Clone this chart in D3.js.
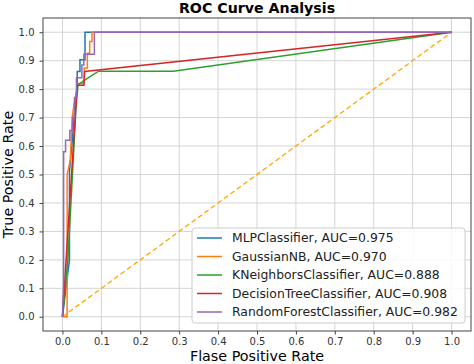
<!DOCTYPE html>
<html lang="en">
<head>
<meta charset="UTF-8">
<title>ROC Curve Analysis</title>
<script src="https://d3js.org/d3.v7.min.js"></script>
<style>
  body { margin: 0; background: #fff; }
  svg { font-family: "DejaVu Sans", sans-serif; }
</style>
</head>
<body>
<div id="chart"></div>
<script>
// tick labels
var xTicks = [0, 0.1, 0.2, 0.3, 0.4, 0.5, 0.6, 0.7, 0.8, 0.9, 1.0];
var yTicks = [0, 0.1, 0.2, 0.3, 0.4, 0.5, 0.6, 0.7, 0.8, 0.9, 1.0];

var models = ["MLPClassifier", "GaussianNB", "KNeighborsClassifier", "DecisionTreeClassifier", "RandomForestClassifier"];
var aucs = ["0.975", "0.970", "0.888", "0.908", "0.982"];
var colors = ["#1f77b4", "#ff7f0e", "#2ca02c", "#d62728", "#9467bd"];

// false positive / true positive rates
var mlpFpr = [0, 0.018, 0.018, 0.024, 0.030, 0.033, 0.038, 0.038, 0.045, 0.045, 0.058, 0.058, 1];
var mlpTpr = [0, 0.20, 0.51, 0.60, 0.70, 0.77, 0.80, 0.862, 0.862, 0.903, 0.903, 1, 1];

var gnbFpr = [0, 0.012, 0.012, 0.020, 0.025, 0.030, 0.040, 0.056, 0.056, 0.064, 0.064, 0.070, 0.070, 0.076, 0.076, 1];
var gnbTpr = [0, 0, 0.50, 0.55, 0.70, 0.75, 0.82, 0.82, 0.874, 0.874, 0.926, 0.926, 0.967, 0.967, 1, 1];

var knnFpr = [0, 0.014, 0.035, 0.040, 0.055, 0.093, 0.285, 1];
var knnTpr = [0, 0.20, 0.74, 0.815, 0.83, 0.863, 0.863, 1];

var dtFpr = [0, 0.038, 0.055, 0.057, 1];
var dtTpr = [0, 0.814, 0.814, 0.862, 1];

var rfFpr = [0, 0.003, 0.003, 0.008, 0.008, 0.019, 0.019, 0.026, 0.026, 0.031, 0.031, 0.036, 0.036, 0.050, 0.050, 0.055, 0.055, 0.082, 0.082, 1];
var rfTpr = [0, 0.12, 0.58, 0.58, 0.62, 0.62, 0.655, 0.655, 0.70, 0.70, 0.77, 0.77, 0.84, 0.84, 0.885, 0.885, 0.923, 0.923, 1, 1];

var fprs = [mlpFpr, gnbFpr, knnFpr, dtFpr, rfFpr];
var tprs = [mlpTpr, gnbTpr, knnTpr, dtTpr, rfTpr];

var chance = [0, 1];

var width = 474, height = 364;
var margin = {top: 18, right: 3, bottom: 33, left: 43};

var svg = d3.select("#chart").append("svg")
    .attr("width", width)
    .attr("height", height);

var x = d3.scaleLinear().domain([-0.05, 1.05]).range([margin.left, width - margin.right]);
var y = d3.scaleLinear().domain([-0.05, 1.05]).range([height - margin.bottom, margin.top]);

// grid
svg.append("g").selectAll("line").data(xTicks).join("line")
    .attr("x1", d => x(d)).attr("x2", d => x(d))
    .attr("y1", y(-0.05)).attr("y2", y(1.05))
    .attr("stroke", "#d5d5d5").attr("stroke-width", 1);
svg.append("g").selectAll("line").data(yTicks).join("line")
    .attr("y1", d => y(d)).attr("y2", d => y(d))
    .attr("x1", x(-0.05)).attr("x2", x(1.05))
    .attr("stroke", "#d5d5d5").attr("stroke-width", 1);

// axes
var xAxis = d3.axisBottom(x).tickValues(xTicks).tickFormat(d3.format(".1f")).tickSize(3.5).tickPadding(3.5);
var yAxis = d3.axisLeft(y).tickValues(yTicks).tickFormat(d3.format(".1f")).tickSize(3.5).tickPadding(5);

var gx = svg.append("g").attr("transform", "translate(0," + y(-0.05) + ")").call(xAxis);
var gy = svg.append("g").attr("transform", "translate(" + x(-0.05) + ",0)").call(yAxis);
[gx, gy].forEach(function(g) {
    g.select(".domain").remove();
    g.selectAll("line").attr("stroke", "#444");
    g.selectAll("text").attr("font-size", "10px").attr("fill", "#333")
        .attr("font-family", "DejaVu Sans, sans-serif");
});

// chance line
svg.append("line")
    .attr("x1", x(chance[0])).attr("y1", y(chance[0]))
    .attr("x2", x(chance[1])).attr("y2", y(chance[1]))
    .attr("stroke", "orange").attr("stroke-width", 1.3)
    .attr("stroke-dasharray", "5,3");

// curves
var line = d3.line().x(d => x(d[0])).y(d => y(d[1]));
models.forEach(function(m, i) {
    var pts = d3.zip(fprs[i], tprs[i]);
    svg.append("path")
        .datum(pts)
        .attr("d", line)
        .attr("fill", "none")
        .attr("stroke", colors[i])
        .attr("stroke-width", 1.5);
});

// frame
svg.append("rect")
    .attr("x", x(-0.05)).attr("y", y(1.05))
    .attr("width", x(1.05) - x(-0.05)).attr("height", y(-0.05) - y(1.05))
    .attr("fill", "none").attr("stroke", "#444").attr("stroke-width", 1);

// title and labels
svg.append("text")
    .attr("x", (x(-0.05) + x(1.05)) / 2).attr("y", 13)
    .attr("text-anchor", "middle")
    .attr("font-size", "14.2px").attr("font-weight", "bold")
    .text("ROC Curve Analysis");

svg.append("text")
    .attr("x", (x(-0.05) + x(1.05)) / 2).attr("y", 361)
    .attr("text-anchor", "middle")
    .attr("font-size", "14.3px")
    .text("Flase Positive Rate");

svg.append("text")
    .attr("transform", "translate(13," + (y(-0.05) + y(1.05)) / 2 + ") rotate(-90)")
    .attr("text-anchor", "middle")
    .attr("font-size", "14.3px")
    .text("True Positive Rate");

// legend
var lg = svg.append("g").attr("transform", "translate(192,228)");
lg.append("rect")
    .attr("width", 273).attr("height", 95)
    .attr("rx", 3)
    .attr("fill", "#fff").attr("fill-opacity", 0.85)
    .attr("stroke", "#cccccc");
models.forEach(function(m, i) {
    var row = lg.append("g").attr("transform", "translate(0," + (10 + i * 18.5) + ")");
    row.append("line")
        .attr("x1", 5).attr("x2", 30)
        .attr("stroke", colors[i]).attr("stroke-width", 1.5);
    row.append("text")
        .attr("x", 40).attr("dy", "0.35em")
        .attr("font-size", "12.4px").attr("fill", "#222")
        .text(m + ", AUC=" + aucs[i]);
});
</script>
</body>
</html>
